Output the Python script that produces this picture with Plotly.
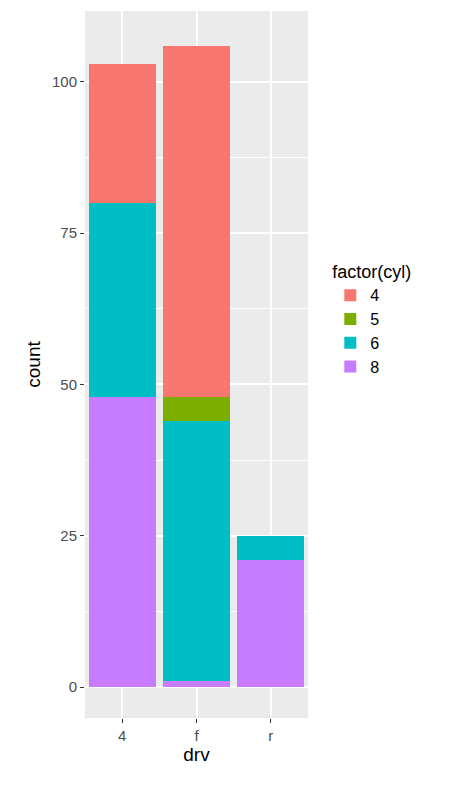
import plotly.graph_objects as go

drv = ["4", "f", "r"]
cyl_levels = ["4", "5", "6", "8"]
counts = {
    "4": [23, 58, 0],
    "5": [0, 4, 0],
    "6": [32, 43, 4],
    "8": [48, 1, 21],
}
colors = {"4": "#F8766D", "5": "#7CAE00", "6": "#00BFC4", "8": "#C77CFF"}

fig = go.Figure()
for c in ["8", "6", "5", "4"]:
    fig.add_trace(go.Bar(x=drv, y=counts[c], name=c, width=0.9,
                         marker=dict(color=colors[c], line_width=0)))

fig.update_layout(
    barmode="stack",
    width=474, height=790,
    margin=dict(l=77, r=174, t=3, b=80, autoexpand=False),
    paper_bgcolor="white", plot_bgcolor="#EBEBEB",
    font=dict(family="Liberation Sans, Arial", size=16, color="black"),
    bargap=0.1,
    legend=dict(title=dict(text="factor(cyl)", font=dict(size=18)),
                traceorder="reversed", x=1.1, y=0.655, yanchor="top",
                font=dict(size=16), itemsizing="constant", tracegroupgap=10),
)
fig.update_xaxes(title=dict(text="drv", font=dict(size=19), standoff=4), showgrid=True,
                 gridcolor="white", gridwidth=2, ticks="outside", ticklen=4,
                 tickcolor="#333333", tickfont=dict(color="#4D4D4D", size=15),
                 zeroline=False)
fig.update_yaxes(title=dict(text="count", font=dict(size=19), standoff=6), range=[-5.1, 111.7],
                 tickvals=[0, 25, 50, 75, 100], showgrid=True, gridcolor="white",
                 gridwidth=2, ticks="outside", ticklen=4, tickcolor="#333333",
                 tickfont=dict(color="#4D4D4D", size=15), zeroline=False,
                 minor=dict(tickvals=[12.5, 37.5, 62.5, 87.5], showgrid=True,
                            gridcolor="white", gridwidth=1))
fig.write_html("out.html")
